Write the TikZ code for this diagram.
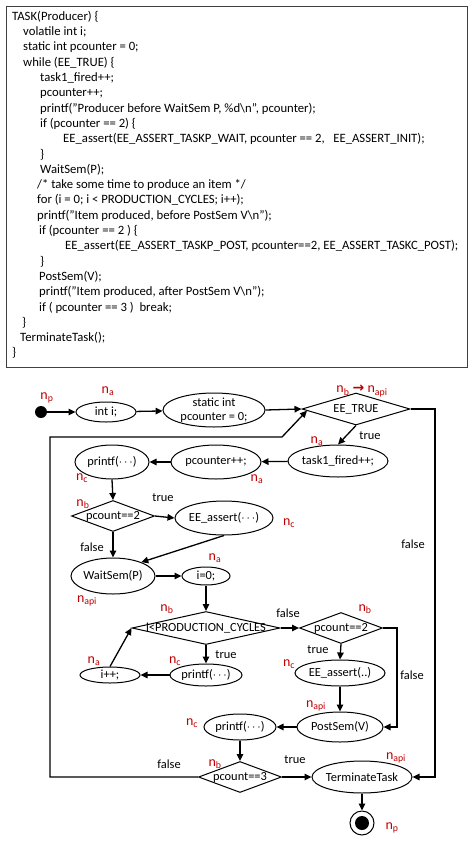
\documentclass[tikz,border=0pt]{standalone}
\usepackage{fontspec}
\setmainfont{Carlito}
\newfontfamily\symfont{DejaVu Sans}
\usetikzlibrary{shapes.geometric,arrows.meta,calc}
\definecolor{nred}{RGB}{192,0,0}
\begin{document}
\begin{tikzpicture}[x=1pt,y=-1pt,
  el/.style={draw, ellipse, inner sep=0pt, line width=1pt},
  dm/.style={draw, diamond, inner sep=0pt, line width=1pt},
  arr/.style={-{Triangle[length=7pt,width=6.5pt]}, line width=1.3pt},
  every label/.style={font=\fontsize{12.4}{14}\selectfont, inner sep=0pt},
  rl/.style={text=nred, inner sep=0pt, font=\fontsize{14}{14}\selectfont},
  bl/.style={inner sep=0pt, font=\fontsize{12.4}{14}\selectfont},
  code/.style={anchor=mid west, inner sep=0pt, font=\fontsize{12.7}{14}\selectfont}]
\useasboundingbox (0,0) rectangle (474,841);
% code box
\draw[line width=0.8pt, black!75] (6,6) rectangle (467,367);
\node[code] (c1) at (12,18) {TASK(Producer) \{};
\node[code] (c2) at (23,33.3) {volatile int i;};
\node[code] (c3) at (23,48.6) {static int pcounter = 0;};
\node[code] (c4) at (23,63.9) {while (EE\_TRUE) \{};
\node[code] (c5) at (40,79.2) {task1\_fired++;};
\node[code] (c6) at (40,94.5) {pcounter++;};
\node[code] (c7) at (40,109.8) {printf("Producer before WaitSem P, \%d\textbackslash n", pcounter);};
\node[code] (c8) at (40,125.1) {if (pcounter == 2) \{};
\node[code] (c9) at (63,140.4) {EE\_assert(EE\_ASSERT\_TASKP\_WAIT, pcounter == 2,\ \ \ EE\_ASSERT\_INIT);};
\node[code] (c10) at (40,155.7) {\}};
\node[code] (c11) at (40,171) {WaitSem(P);};
\node[code] (c12) at (37,186.3) {/* take some time to produce an item */};
\node[code] (c13) at (37,201.6) {for (i = 0; i < PRODUCTION\_CYCLES; i++);};
\node[code] (c14) at (37,216.9) {printf("Item produced, before PostSem V\textbackslash n");};
\node[code] (c15) at (39,232.2) {if (pcounter == 2 ) \{};
\node[code] (c16) at (65,247.5) {EE\_assert(EE\_ASSERT\_TASKP\_POST, pcounter==2, EE\_ASSERT\_TASKC\_POST);};
\node[code] (c17) at (40,262.8) {\}};
\node[code] (c18) at (39,278.1) {PostSem(V);};
\node[code] (c19) at (39,293.4) {printf("Item produced, after PostSem V\textbackslash n");};
\node[code] (c20) at (39,308.7) {if ( pcounter == 3 )\ \ break;};
\node[code] (c21) at (22,324) {\}};
\node[code] (c22) at (20,339.3) {TerminateTask();};
\node[code] (c23) at (12,354.6) {\}};

% flowchart nodes
\node[circle, fill, inner sep=0pt, minimum size=12pt] (start) at (41,412) {};
\node[el, minimum width=60pt, minimum height=20pt, label={center:{int i;}}] (inti) at (106,412) {};
\node[el, minimum width=102pt, minimum height=34pt, label={[align=center]center:{static int\\pcounter = 0;}}] (sint) at (214,410) {};
\node[dm, minimum width=108pt, minimum height=32pt, label={center:{EE\_TRUE}}] (ee) at (356,409) {};
\node[el, minimum width=100pt, minimum height=32pt, label={center:{task1\_fired++;}}] (t1) at (338,461) {};
\node[el, minimum width=90pt, minimum height=34pt, label={center:{pcounter++;}}] (pcpp) at (216,462) {};
\node[el, minimum width=74pt, minimum height=34pt, label={center:{printf($\cdots$)}}] (pf1) at (112,462) {};
\node[dm, minimum width=83pt, minimum height=31pt, label={center:{pcount==2}}] (pca) at (113,516) {};
\node[el, minimum width=98pt, minimum height=34pt, label={center:{EE\_assert($\cdots$)}}] (ea1) at (224,518) {};
\node[el, minimum width=84pt, minimum height=36pt, label={center:{WaitSem(P)}}] (ws) at (113,576) {};
\node[el, minimum width=48pt, minimum height=18pt, label={center:{i=0;}}] (i0) at (206,576) {};
\node[dm, minimum width=148pt, minimum height=33pt, label={center:{i<PRODUCTION\_CYCLES}}] (pc) at (206,628) {};
\node[el, minimum width=72pt, minimum height=22pt, label={center:{printf($\cdots$)}}] (pf2) at (206,675) {};
\node[el, minimum width=60pt, minimum height=16pt, label={center:{i++;}}] (ip) at (110,675) {};
\node[dm, minimum width=83pt, minimum height=31pt, label={center:{pcount==2}}] (pcb) at (341,628) {};
\node[el, minimum width=90pt, minimum height=26pt, label={center:{EE\_assert(..)}}] (ea2) at (340,673) {};
\node[el, minimum width=86pt, minimum height=30pt, label={center:{PostSem(V)}}] (ps) at (340,727) {};
\node[el, minimum width=72pt, minimum height=26pt, label={center:{printf($\cdots$)}}] (pf3) at (240,727) {};
\node[dm, minimum width=83pt, minimum height=31pt, label={center:{pcount==3}}] (pc3) at (240,777) {};
\node[el, minimum width=100pt, minimum height=32pt, label={center:{TerminateTask}}] (tt) at (362,777) {};
\node[circle, draw, line width=1pt, inner sep=0pt, minimum size=24pt] (fin) at (362,823) {};
\node[circle, fill, inner sep=0pt, minimum size=14pt] (finin) at (362,823) {};

% helper coordinates
\coordinate (lb) at (50,777);
\coordinate (lt) at (50,437);
\coordinate (lr) at (282,437);
\coordinate (rt) at (435,409);
\coordinate (rb) at (435,777);
\coordinate (fb1) at (397,628);
\coordinate (fb2) at (397,727);
\coordinate (eein) at ($(ee.west)!0.1!(ee.south)$);

% connectors
\draw[arr] (start) -- (inti);
\draw[arr] (inti) -- (sint);
\draw[arr] (sint.east) -- (ee.west);
\draw[arr] (ee.south) -- (t1.north);
\draw[arr] (t1) -- (pcpp);
\draw[arr] (pcpp) -- (pf1);
\draw[arr] (pf1.south) -- (pca.north);
\draw[arr] (pca.east) -- (ea1.west);
\draw[arr] (pca.south) -- (ws.north);
\draw[arr] (ea1.south) -- (ws.26);
\draw[arr] (ws) -- (i0);
\draw[arr] (i0.south) -- (pc.north);
\draw[arr] (pc.south) -- (pf2.north);
\draw[arr] (pf2) -- (ip);
\draw[arr] (ip.north) -- (pc.west);
\draw[arr] (pc.east) -- (pcb.west);
\draw[arr] (pcb.south) -- (ea2.north);
\draw[arr] (pcb.east) -- (fb1) -- (fb2) -- (ps.east);
\draw[arr] (ea2.south) -- (ps.north);
\draw[arr] (ps) -- (pf3);
\draw[arr] (pf3.south) -- (pc3.north);
\draw[arr] (pc3.east) -- (tt.west);
\draw[arr] (tt.south) -- (fin.north);
\draw[arr] (ee.east) -- (rt) -- (rb) -- (tt.east);
\draw[arr, line join=miter] (pc3.west) -- (lb) -- (lt) -- (lr) -- (eein);

% red labels
\node[rl] (l1) at (47,398) {n\textsubscript{p}};
\node[rl] (l2) at (108,391) {n\textsubscript{a}};
\node[rl] (l3) at (362,391) {n\textsubscript{b} {\symfont\bfseries →} n\textsubscript{api}};
\node[rl] (l4) at (317,441) {n\textsubscript{a}};
\node[rl] (l5) at (257,479) {n\textsubscript{a}};
\node[rl] (l6) at (82,478) {n\textsubscript{c}};
\node[rl] (l7) at (83,504) {n\textsubscript{b}};
\node[rl] (l8) at (289,523) {n\textsubscript{c}};
\node[rl] (l9) at (215,558) {n\textsubscript{a}};
\node[rl] (l10) at (87,601) {n\textsubscript{api}};
\node[rl] (l11) at (167,609) {n\textsubscript{b}};
\node[rl] (l12) at (365,609) {n\textsubscript{b}};
\node[rl] (l13) at (94,661) {n\textsubscript{a}};
\node[rl] (l14) at (175,661) {n\textsubscript{c}};
\node[rl] (l15) at (289,664) {n\textsubscript{c}};
\node[rl] (l16) at (316,706) {n\textsubscript{api}};
\node[rl] (l17) at (192,723) {n\textsubscript{c}};
\node[rl] (l18) at (215,764) {n\textsubscript{b}};
\node[rl] (l19) at (396,758) {n\textsubscript{api}};
\node[rl] (l20) at (392,828) {n\textsubscript{p}};

% black labels
\node[bl] (b1) at (370,436) {true};
\node[bl] (b2) at (163,498) {true};
\node[bl] (b3) at (92,547) {false};
\node[bl] (b4) at (413,544) {false};
\node[bl] (b5) at (288,613) {false};
\node[bl] (b6) at (226,655) {true};
\node[bl] (b7) at (318,650) {true};
\node[bl] (b8) at (412,675) {false};
\node[bl] (b9) at (169,764) {false};
\node[bl] (b10) at (295,760) {true};
\end{tikzpicture}
\end{document}
